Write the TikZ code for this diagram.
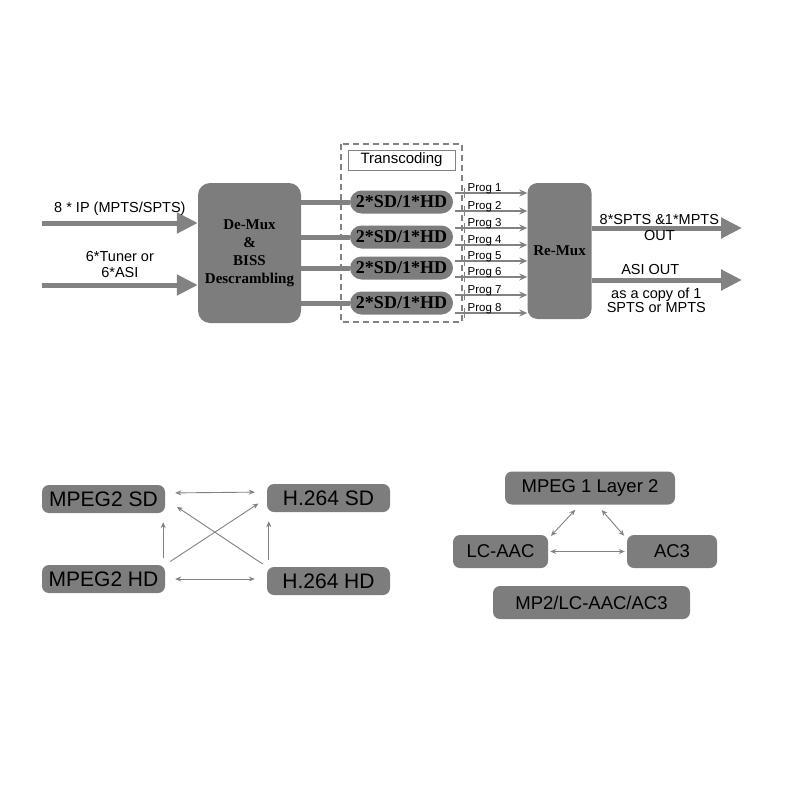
\documentclass[tikz,border=0pt]{standalone}
\usepackage{fontspec}
\setmainfont{Liberation Sans}
\newfontfamily\timesfont{Liberation Serif}
\usetikzlibrary{arrows.meta}
\definecolor{boxgray}{RGB}{125,125,125}
\definecolor{linegray}{RGB}{130,130,130}
\newcommand{\fsz}[2]{\fontsize{#1}{#2}\selectfont}

\tikzset{
  block/.style={fill=boxgray, rounded corners=12pt, align=center, inner sep=0pt,
    font=\timesfont\bfseries\fsz{15}{18}},
  pill/.style={fill=boxgray, rounded corners=11.5pt, minimum width=103pt, minimum height=23pt,
    inner sep=0pt, font=\timesfont\bfseries\fsz{18}{18}},
  fatline/.style={linegray, line width=5pt},
  fatarrow/.style={fatline, -{Triangle[length=21pt,width=20pt]}},
  progarrow/.style={linegray, line width=1.3pt, -{Stealth[length=8pt,width=7pt]}},
  lbl/.style={text=black, align=center, inner sep=1pt, font=\fsz{14.5}{16}},
  fmtbox/.style={fill=boxgray, rounded corners=7pt, inner sep=0pt, text=black},
  thinarrow/.style={linegray, line width=0.9pt, >={Stealth[length=6pt,width=5pt]}}
}

\begin{document}
\begin{tikzpicture}[x=1pt, y=-1pt]
\useasboundingbox (0,0) rectangle (800,800);

\node[block, minimum width=103pt, minimum height=140pt] (demux) at (249.5,253) {De-Mux\\\&\\BISS\\Descrambling};
\node[block, rounded corners=10pt, minimum width=64pt, minimum height=136pt] (remux) at (559.5,251) {Re-Mux};

\coordinate (ipin) at (42,223);
\coordinate (asiin) at (42,285);
\draw[fatarrow] (ipin) -- (ipin -| demux.west) node[lbl, midway, above=4pt] {8 * IP (MPTS/SPTS)};
\draw[fatarrow] (asiin) -- (asiin -| demux.west) node[lbl, midway, above=4pt] {6*Tuner or\\6*ASI};

\draw[linegray, line width=1.2pt, dash pattern=on 6pt off 4pt] (341,144) rectangle (462,322);
\node[draw=linegray, fill=white, minimum width=107pt, minimum height=20pt, inner sep=0pt,
  font=\fsz{15}{15}] (trans) at (401.5,160) {Transcoding};

\foreach \i/\y in {1/202,2/237,3/268,4/303} {
  \node[pill] (tc\i) at (401.5,\y) {2*SD/1*HD};
  \draw[fatline] (demux.east |- tc\i) -- (tc\i.west);
}

\foreach \i/\y in {1/193,2/211,3/228,4/245,5/261,6/277,7/295,8/313} {
  \coordinate (prog\i) at (455,\y);
  \draw[progarrow] (prog\i) -- (prog\i -| remux.west)
    node[pos=0, anchor=base west, xshift=12pt, yshift=2pt, inner sep=0pt, text=black, font=\fsz{11.5}{11.5}] {Prog \i};
  \draw[linegray, line width=0.8pt] (464,\y-5) -- (464,\y+5);
}

\coordinate (tsout) at (742,228);
\coordinate (asiout) at (742,280);
\draw[fatarrow] (remux.east |- tsout) -- (tsout)
  node[lbl, pos=0.45, above=0pt] {8*SPTS \&1*MPTS}
  node[lbl, pos=0.45, below=-1pt] {OUT};
\draw[fatarrow] (remux.east |- asiout) -- (asiout)
  node[lbl, pos=0.39, above=2pt] {ASI OUT}
  node[lbl, pos=0.43, below=5pt, font=\fsz{14.5}{14}] {as a copy of 1\\SPTS or MPTS};

\node[fmtbox, minimum width=123pt, minimum height=28pt, font=\fsz{21}{21}] (mpsd) at (103.5,499) {MPEG2 SD};
\node[fmtbox, minimum width=123pt, minimum height=28pt, font=\fsz{21}{21}] (hsd) at (328.5,498) {H.264 SD};
\node[fmtbox, minimum width=123pt, minimum height=28pt, font=\fsz{21}{21}] (mphd) at (103.5,579) {MPEG2 HD};
\node[fmtbox, minimum width=123pt, minimum height=28pt, font=\fsz{21}{21}] (hhd) at (328.5,581) {H.264 HD};

\draw[thinarrow, <->, shorten <=10pt, shorten >=12pt] ([yshift=6pt]mpsd.east) -- ([yshift=6pt]hsd.west);
\draw[thinarrow, <->, shorten <=10pt, shorten >=12pt] (mphd.east) -- (mphd.east -| hhd.west);
\draw[thinarrow, ->, shorten <=7pt, shorten >=9pt] ([xshift=-2pt]mphd.north east) -- ([xshift=-2pt]mpsd.south east);
\draw[thinarrow, ->, shorten <=7pt, shorten >=9pt] ([xshift=2pt]hhd.north west) -- ([xshift=2pt]hsd.south west);
\draw[thinarrow, ->, shorten <=6pt, shorten >=10pt] (mphd.north east) -- (hsd.west);
\draw[thinarrow, ->, shorten <=5pt, shorten >=14pt] (hhd.north west) -- (mpsd.east);

\node[fmtbox, minimum width=170pt, minimum height=33pt, font=\fsz{18.5}{18.5}] (mp1) at (590,488) {MPEG 1 Layer 2};
\node[fmtbox, minimum width=95pt, minimum height=33pt, font=\fsz{18.5}{18.5}] (aac) at (500.5,551.5) {LC-AAC};
\node[fmtbox, minimum width=90pt, minimum height=33pt, font=\fsz{18.5}{18.5}] (ac3) at (672,551.5) {AC3};
\node[fmtbox, minimum width=197pt, minimum height=33pt, font=\fsz{18.5}{18.5}] (mix) at (591.5,602.5) {MP2/LC-AAC/AC3};

\draw[thinarrow, <->, shorten <=2pt, shorten >=2pt] (aac.east) -- (ac3.west);
\draw[thinarrow, <->, shorten <=7pt, shorten >=4pt] ([xshift=-10pt]mp1.south) -- ([yshift=-4pt]aac.north east);
\draw[thinarrow, <->, shorten <=7pt, shorten >=4pt] ([xshift=7pt]mp1.south) -- ([yshift=-4pt]ac3.north west);

\end{tikzpicture}
\end{document}
